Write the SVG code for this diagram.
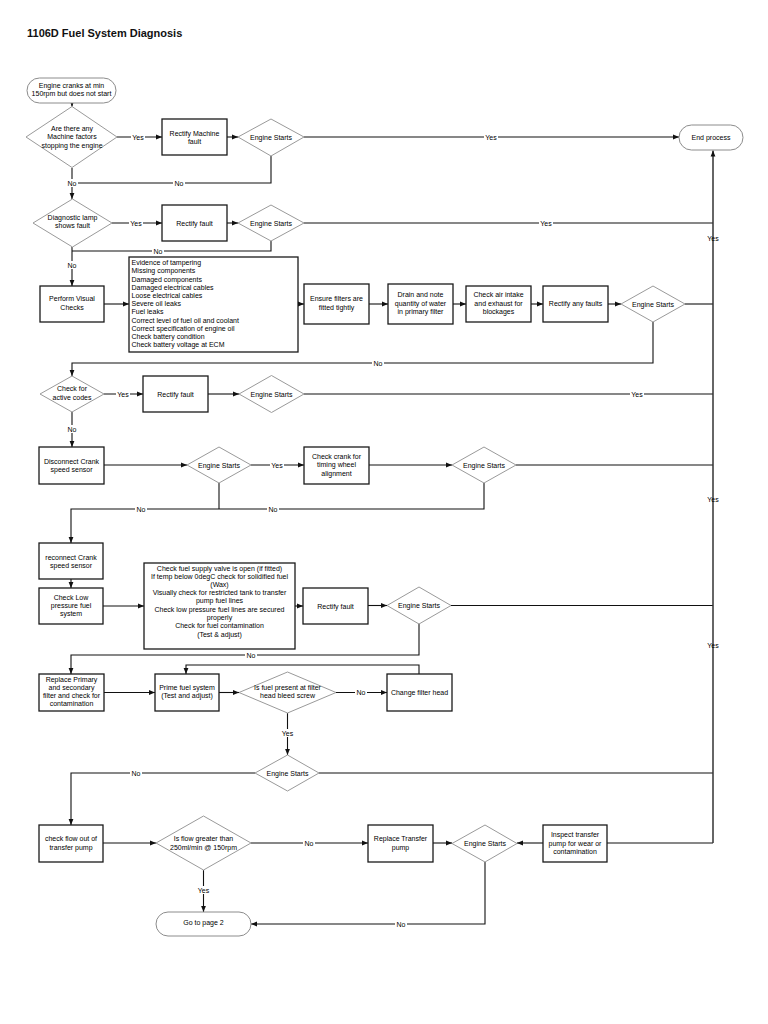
<svg xmlns="http://www.w3.org/2000/svg" width="768" height="1024" viewBox="0 0 768 1024">
<style>
.bg{fill:#fff}
.box{fill:#fff;stroke:#1a1a1a;stroke-width:1.3}
.dec{fill:#fff;stroke:#9a9a9a;stroke-width:1}
.term{fill:#fff;stroke:#8c8c8c;stroke-width:1}
.t{font-family:"Liberation Sans",Arial,sans-serif;font-size:7px;fill:#000;text-anchor:middle}
.tl{text-anchor:start}
.title{font-family:"Liberation Sans",Arial,sans-serif;font-size:11px;font-weight:bold;fill:#111}
.c{fill:none;stroke:#111;stroke-width:1.1}
.cv{fill:none;stroke:#333;stroke-width:1.5}
.lb rect{fill:#fff}
</style>
<defs>
<marker id="ah" markerWidth="6" markerHeight="6" refX="6" refY="3" orient="auto" markerUnits="userSpaceOnUse">
<path d="M0,0.6 L6,3 L0,5.4 z" fill="#111"/>
</marker>
</defs>
<rect class="bg" x="0" y="0" width="768" height="1024"/>
<text class="title" x="27" y="37">1106D Fuel System Diagnosis</text>

<g id="connectors">
<path class="c" d="M72,103 L72,106.5" marker-end="url(#ah)"/>
<path class="c" d="M117,137 L162,137" marker-end="url(#ah)"/>
<path class="c" d="M227,137 L238,137" marker-end="url(#ah)"/>
<path class="c" d="M304,137 L679,137" marker-end="url(#ah)"/>
<path class="c" d="M271,156 L271,183 L72,183"/>
<path class="c" d="M72,168 L72,199" marker-end="url(#ah)"/>
<path class="c" d="M112,223 L162,223" marker-end="url(#ah)"/>
<path class="c" d="M227,223 L238,223" marker-end="url(#ah)"/>
<path class="c" d="M304,223 L713,223"/>
<path class="c" d="M271,241 L271,251 L72,251"/>
<path class="c" d="M72,247 L72,286" marker-end="url(#ah)"/>
<path class="c" d="M104,304 L129,304" marker-end="url(#ah)"/>
<path class="c" d="M298,304 L304,304" marker-end="url(#ah)"/>
<path class="c" d="M369,304 L388,304" marker-end="url(#ah)"/>
<path class="c" d="M453,304 L466,304" marker-end="url(#ah)"/>
<path class="c" d="M531,304 L543,304" marker-end="url(#ah)"/>
<path class="c" d="M608,304 L621,304" marker-end="url(#ah)"/>
<path class="c" d="M685,304 L713,304"/>
<path class="c" d="M653,322 L653,363 L72,363 L72,376" marker-end="url(#ah)"/>
<path class="c" d="M104,394 L143,394" marker-end="url(#ah)"/>
<path class="c" d="M208,394 L239,394" marker-end="url(#ah)"/>
<path class="c" d="M304,394 L713,394"/>
<path class="c" d="M72,412 L72,447" marker-end="url(#ah)"/>
<path class="c" d="M104,465 L187,465" marker-end="url(#ah)"/>
<path class="c" d="M251,465 L304,465" marker-end="url(#ah)"/>
<path class="c" d="M369,465 L452,465" marker-end="url(#ah)"/>
<path class="c" d="M516,465 L713,465"/>
<path class="c" d="M484,483 L484,509 L71,509 L71,543" marker-end="url(#ah)"/>
<path class="c" d="M219,483 L219,509"/>
<path class="c" d="M71,579 L71,588" marker-end="url(#ah)"/>
<path class="c" d="M103,606 L144,606" marker-end="url(#ah)"/>
<path class="c" d="M295,606 L303,606" marker-end="url(#ah)"/>
<path class="c" d="M368,605.5 L387,605.5" marker-end="url(#ah)"/>
<path class="c" d="M451,605.5 L713,605.5"/>
<path class="c" d="M419,623 L419,655 L71,655 L71,674" marker-end="url(#ah)"/>
<path class="c" d="M104,692.5 L155,692.5" marker-end="url(#ah)"/>
<path class="c" d="M219,692.5 L239,692.5" marker-end="url(#ah)"/>
<path class="c" d="M336,692.5 L387,692.5" marker-end="url(#ah)"/>
<path class="c" d="M419,674 L419,665 L186,665 L186,674" marker-end="url(#ah)"/>
<path class="c" d="M287.5,713 L287.5,755" marker-end="url(#ah)"/>
<path class="c" d="M255,773 L71,773 L71,825" marker-end="url(#ah)"/>
<path class="c" d="M319,773 L713,773"/>
<path class="c" d="M103,843 L156,843" marker-end="url(#ah)"/>
<path class="c" d="M251,843 L368,843" marker-end="url(#ah)"/>
<path class="c" d="M433,843 L452,843" marker-end="url(#ah)"/>
<path class="c" d="M543,843 L517,843" marker-end="url(#ah)"/>
<path class="c" d="M203.5,870 L203.5,912" marker-end="url(#ah)"/>
<path class="c" d="M485,862 L485,924 L251,924" marker-end="url(#ah)"/>
<path class="c" d="M607,843 L713,843"/>
<path class="cv" d="M713,843 L713,150.5" marker-end="url(#ah)"/>

<g class="lb"><rect x="131" y="133" width="14" height="8"/><text class="t" x="138" y="139.5">Yes</text></g>
<g class="lb"><rect x="484" y="133" width="14" height="8"/><text class="t" x="491" y="139.5">Yes</text></g>
<g class="lb"><rect x="173" y="179" width="12" height="8"/><text class="t" x="179" y="185.5">No</text></g>
<g class="lb"><rect x="66" y="179" width="12" height="8"/><text class="t" x="72" y="185.5">No</text></g>
<g class="lb"><rect x="129" y="219" width="14" height="8"/><text class="t" x="136" y="225.5">Yes</text></g>
<g class="lb"><rect x="539" y="219" width="14" height="8"/><text class="t" x="546" y="225.5">Yes</text></g>
<g class="lb"><rect x="152" y="247" width="12" height="8"/><text class="t" x="158" y="253.5">No</text></g>
<g class="lb"><rect x="66" y="261" width="12" height="8"/><text class="t" x="72" y="267.5">No</text></g>
<g class="lb"><rect x="372" y="359" width="12" height="8"/><text class="t" x="378" y="365.5">No</text></g>
<g class="lb"><rect x="116" y="390" width="14" height="8"/><text class="t" x="123" y="396.5">Yes</text></g>
<g class="lb"><rect x="630" y="390" width="14" height="8"/><text class="t" x="637" y="396.5">Yes</text></g>
<g class="lb"><rect x="66" y="425" width="12" height="8"/><text class="t" x="72" y="431.5">No</text></g>
<g class="lb"><rect x="270" y="461" width="14" height="8"/><text class="t" x="277" y="467.5">Yes</text></g>
<g class="lb"><rect x="267" y="505" width="12" height="8"/><text class="t" x="273" y="511.5">No</text></g>
<g class="lb"><rect x="135" y="505" width="12" height="8"/><text class="t" x="141" y="511.5">No</text></g>
<g class="lb"><rect x="245" y="651" width="12" height="8"/><text class="t" x="251" y="657.5">No</text></g>
<g class="lb"><rect x="355" y="688.5" width="12" height="8"/><text class="t" x="361" y="695">No</text></g>
<g class="lb"><rect x="280.5" y="729" width="14" height="8"/><text class="t" x="287.5" y="735.5">Yes</text></g>
<g class="lb"><rect x="130" y="769" width="12" height="8"/><text class="t" x="136" y="775.5">No</text></g>
<g class="lb"><rect x="303" y="839" width="12" height="8"/><text class="t" x="309" y="845.5">No</text></g>
<g class="lb"><rect x="196.5" y="886" width="14" height="8"/><text class="t" x="203.5" y="892.5">Yes</text></g>
<g class="lb"><rect x="395" y="920" width="12" height="8"/><text class="t" x="401" y="926.5">No</text></g>
<text class="t" x="713" y="240.5">Yes</text>
<text class="t" x="713" y="501.5">Yes</text>
<text class="t" x="713" y="647.5">Yes</text>
</g>

<g id="start"><rect class="term" x="27" y="78" width="89" height="25" rx="12.5"/><text class="t" x="71.5" y="87.5">Engine cranks at min</text><text class="t" x="71.5" y="95.5">150rpm but does not start</text></g>
<g id="d1"><polygon class="dec" points="72,106.5 117,137 72,167.5 26,137"/><text class="t" x="72" y="130.5">Are there any</text><text class="t" x="72" y="139">Machine factors</text><text class="t" x="72" y="147.5">stopping the engine</text></g>
<g id="b1"><rect class="box" x="162" y="119" width="65" height="36"/><text class="t" x="194.5" y="135.5">Rectify Machine</text><text class="t" x="194.5" y="143.5">fault</text></g>
<g id="es1"><polygon class="dec" points="271,119 304,137 271,156 238,137"/><text class="t" x="271" y="139.5">Engine Starts</text></g>
<g id="end"><rect class="term" x="679" y="125" width="64" height="25" rx="12.5"/><text class="t" x="711" y="139.5">End process</text></g>

<g id="d2"><polygon class="dec" points="72.5,199 112,223 72.5,247 33,223"/><text class="t" x="72.5" y="219.5">Diagnostic lamp</text><text class="t" x="72.5" y="227.5">shows fault</text></g>
<g id="b2"><rect class="box" x="162" y="205" width="65" height="36"/><text class="t" x="194.5" y="225.5">Rectify fault</text></g>
<g id="es2"><polygon class="dec" points="271,205 304,223 271,241 238,223"/><text class="t" x="271" y="225.5">Engine Starts</text></g>

<g id="pvc"><rect class="box" x="40" y="286" width="64" height="36"/><text class="t" x="72" y="300.5">Perform Visual</text><text class="t" x="72" y="309.5">Checks</text></g>
<g id="list"><rect class="box" x="129" y="257" width="169" height="95"/>
<text class="t tl" x="131.5" y="265.2">Evidence of tampering</text>
<text class="t tl" x="131.5" y="273.4">Missing components</text>
<text class="t tl" x="131.5" y="281.6">Damaged components</text>
<text class="t tl" x="131.5" y="289.8">Damaged electrical cables</text>
<text class="t tl" x="131.5" y="298">Loose electrical cables</text>
<text class="t tl" x="131.5" y="306.2">Severe oil leaks</text>
<text class="t tl" x="131.5" y="314.4">Fuel leaks</text>
<text class="t tl" x="131.5" y="322.6">Correct level of fuel oil and coolant</text>
<text class="t tl" x="131.5" y="330.8">Correct specification of engine oil</text>
<text class="t tl" x="131.5" y="339">Check battery condition</text>
<text class="t tl" x="131.5" y="347.2">Check battery voltage at ECM</text>
</g>
<g id="ensure"><rect class="box" x="304" y="284" width="65" height="40"/><text class="t" x="336.5" y="300.5">Ensure filters are</text><text class="t" x="336.5" y="309.5">fitted tightly</text></g>
<g id="drain"><rect class="box" x="388" y="284" width="65" height="40"/><text class="t" x="420.5" y="296.5">Drain and note</text><text class="t" x="420.5" y="305.5">quantity of water</text><text class="t" x="420.5" y="313.5">in primary filter</text></g>
<g id="air"><rect class="box" x="466" y="286" width="65" height="36"/><text class="t" x="498.5" y="296.5">Check air intake</text><text class="t" x="498.5" y="305.5">and exhaust for</text><text class="t" x="498.5" y="313.5">blockages</text></g>
<g id="rany"><rect class="box" x="543" y="286" width="65" height="36"/><text class="t" x="575.5" y="305.5">Rectify any faults</text></g>
<g id="es3"><polygon class="dec" points="653,286 685,304 653,322 621,304"/><text class="t" x="653" y="306.5">Engine Starts</text></g>

<g id="d4"><polygon class="dec" points="72,376 104,394 72,412 40,394"/><text class="t" x="72" y="390.5">Check for</text><text class="t" x="72" y="399.5">active codes</text></g>
<g id="b4"><rect class="box" x="143" y="376" width="65" height="36"/><text class="t" x="175.5" y="396.5">Rectify fault</text></g>
<g id="es4"><polygon class="dec" points="271.5,375.5 304,394 271.5,412.5 239,394"/><text class="t" x="271.5" y="396.5">Engine Starts</text></g>

<g id="disc"><rect class="box" x="39" y="447" width="65" height="37"/><text class="t" x="71.5" y="463.5">Disconnect Crank</text><text class="t" x="71.5" y="471.5">speed sensor</text></g>
<g id="es5"><polygon class="dec" points="219,447 251,465 219,483 187,465"/><text class="t" x="219" y="467.5">Engine Starts</text></g>
<g id="crank"><rect class="box" x="304" y="447" width="65" height="37"/><text class="t" x="336.5" y="458.5">Check crank for</text><text class="t" x="336.5" y="466.5">timing wheel</text><text class="t" x="336.5" y="475.5">alignment</text></g>
<g id="es6"><polygon class="dec" points="484,447 516,465 484,483 452,465"/><text class="t" x="484" y="467.5">Engine Starts</text></g>

<g id="reconn"><rect class="box" x="39" y="543" width="64" height="36"/><text class="t" x="71" y="559.5">reconnect Crank</text><text class="t" x="71" y="567.5">speed sensor</text></g>
<g id="lowp"><rect class="box" x="39" y="588" width="64" height="36"/><text class="t" x="71" y="599.5">Check Low</text><text class="t" x="71" y="607.5">pressure fuel</text><text class="t" x="71" y="615.5">system</text></g>
<g id="fuelbox"><rect class="box" x="144" y="563" width="151" height="86"/>
<text class="t" x="219.5" y="570.8">Check fuel supply valve is open (if fitted)</text>
<text class="t" x="219.5" y="578.8">If temp below 0degC check for solidified fuel</text>
<text class="t" x="219.5" y="586.8">(Wax)</text>
<text class="t" x="219.5" y="595.2">Visually check for restricted tank to transfer</text>
<text class="t" x="219.5" y="603.2">pump fuel lines</text>
<text class="t" x="219.5" y="611.8">Check low pressure fuel lines are secured</text>
<text class="t" x="219.5" y="620">properly</text>
<text class="t" x="219.5" y="628.2">Check for fuel contamination</text>
<text class="t" x="219.5" y="636.5">(Test &amp; adjust)</text>
</g>
<g id="b7"><rect class="box" x="303" y="588" width="65" height="36"/><text class="t" x="335.5" y="608.5">Rectify fault</text></g>
<g id="es7"><polygon class="dec" points="419,587 451,605.5 419,624 387,605.5"/><text class="t" x="419" y="608">Engine Starts</text></g>

<g id="replp"><rect class="box" x="39" y="674" width="65" height="37"/><text class="t" x="71.5" y="681.5">Replace Primary</text><text class="t" x="71.5" y="690">and secondary</text><text class="t" x="71.5" y="698">filter and check for</text><text class="t" x="71.5" y="706">contamination</text></g>
<g id="prime"><rect class="box" x="155" y="674" width="64" height="37"/><text class="t" x="187" y="690">Prime fuel system</text><text class="t" x="187" y="698">(Test and adjust)</text></g>
<g id="d8"><polygon class="dec" points="287.5,672 336,692.5 287.5,713 239,692.5"/><text class="t" x="287.5" y="690">Is fuel present at filter</text><text class="t" x="287.5" y="698">head bleed screw</text></g>
<g id="chfh"><rect class="box" x="387" y="674" width="65" height="37"/><text class="t" x="419.5" y="694.5">Change filter head</text></g>
<g id="es9"><polygon class="dec" points="287.5,755 319,773 287.5,791 255,773"/><text class="t" x="287.5" y="775.5">Engine Starts</text></g>

<g id="cflow"><rect class="box" x="39" y="825" width="64" height="37"/><text class="t" x="71" y="840.5">check flow out of</text><text class="t" x="71" y="849.5">transfer pump</text></g>
<g id="d10"><polygon class="dec" points="203.5,816 251,843 203.5,870 156,843"/><text class="t" x="203.5" y="840.5">Is flow greater than</text><text class="t" x="203.5" y="849.5">250ml/min @ 150rpm</text></g>
<g id="rtp"><rect class="box" x="368" y="825" width="65" height="37"/><text class="t" x="400.5" y="840.5">Replace Transfer</text><text class="t" x="400.5" y="849.5">pump</text></g>
<g id="es11"><polygon class="dec" points="485,825 517,843.5 485,862 452,843.5"/><text class="t" x="485" y="846">Engine Starts</text></g>
<g id="insp"><rect class="box" x="543" y="825" width="64" height="37"/><text class="t" x="575" y="837">Inspect transfer</text><text class="t" x="575" y="845.5">pump for wear or</text><text class="t" x="575" y="853.5">contamination</text></g>
<g id="page2"><rect class="term" x="156" y="912" width="95" height="24" rx="12"/><text class="t" x="203.5" y="924.5">Go to page 2</text></g>
</svg>
